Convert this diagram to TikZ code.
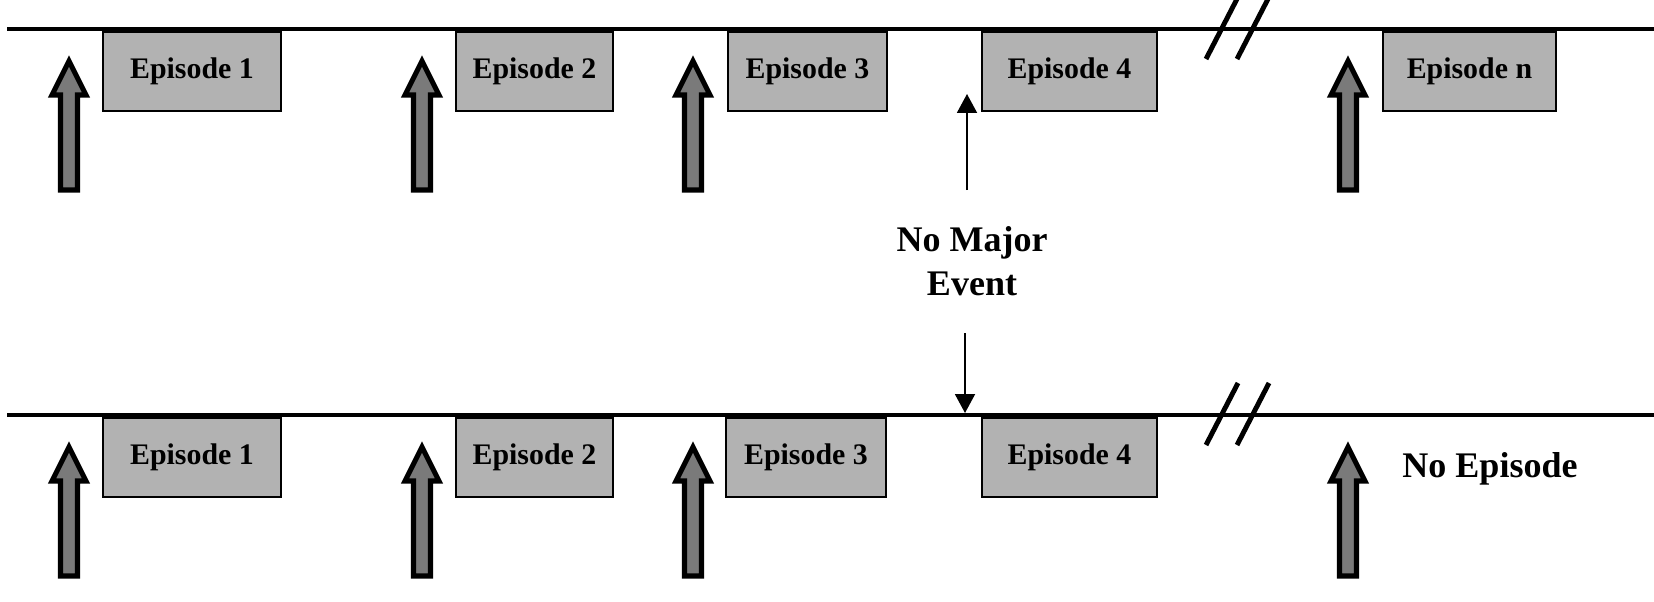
\documentclass[tikz,border=0pt]{standalone}
\usepackage{fontspec}
\setmainfont{Liberation Serif}
\usetikzlibrary{arrows.meta}

\begin{document}
\begin{tikzpicture}[x=0.02cm, y=-0.02cm, >={Triangle[length=0.38cm, width=0.4cm]},
    every node/.style={font=\bfseries\fontsize{17}{20}\selectfont},
    epbox/.style={draw, line width=1.1pt, fill=black!30, anchor=north west, minimum height=1.58cm, inner sep=0pt},
    timeline/.style={line width=2.8pt},
    breakmark/.style={line width=2.8pt},
    startarrow/.style={draw, line width=2.9pt, fill=black!52, line join=miter},
    evarrow/.style={->, line width=1.1pt},
    bigtext/.style={font=\bfseries\fontsize{20.5}{25}\selectfont, inner sep=0pt}]
  \clip (0,0) rectangle (1654,602);

  % episode boxes
  \node[epbox, minimum width=3.56cm] (t1) at (102,31) {Episode 1};
  \node[epbox, minimum width=3.14cm] (t2) at (455,31) {Episode 2};
  \node[epbox, minimum width=3.18cm] (t3) at (727,31) {Episode 3};
  \node[epbox, minimum width=3.5cm] (t4) at (981,31) {Episode 4};
  \node[epbox, minimum width=3.46cm] (tn) at (1382,31) {Episode n};
  \node[epbox, minimum width=3.56cm] (b1) at (102,417) {Episode 1};
  \node[epbox, minimum width=3.14cm] (b2) at (455,417) {Episode 2};
  \node[epbox, minimum width=3.2cm] (b3) at (725,417) {Episode 3};
  \node[epbox, minimum width=3.5cm] (b4) at (981,417) {Episode 4};
  \node[bigtext, anchor=base] (noep) at (1490,477) {No Episode};

  % time lines with break marks
  \foreach \ly in {29,415} {
    \draw[timeline] (7,\ly) -- (1654,\ly);
    \draw[breakmark] (1206,{\ly+30}) -- (1238,{\ly-32});
    \draw[breakmark] (1237,{\ly+30}) -- (1269,{\ly-32});
    \foreach \ax in {69,422,693,1348}
      \draw[startarrow] (\ax,{\ly+32}) -- ({\ax+17},{\ly+66}) -- ({\ax+8.5},{\ly+66})
        -- ({\ax+8.5},{\ly+161}) -- ({\ax-8.5},{\ly+161}) -- ({\ax-8.5},{\ly+66})
        -- ({\ax-17},{\ly+66}) -- cycle;
  }

  % no major event
  \node[bigtext, align=center, anchor=north] (event) at (972,226) {No Major\\Event};
  \coordinate (evfoot) at (967,190);
  \coordinate (evtip) at (967,94);
  \coordinate (evtop) at (965,333);
  \coordinate (evline) at (965,413);
  \draw[evarrow] (evfoot) -- (evtip);
  \draw[evarrow] (evtop) -- (evline);
\end{tikzpicture}
\end{document}
